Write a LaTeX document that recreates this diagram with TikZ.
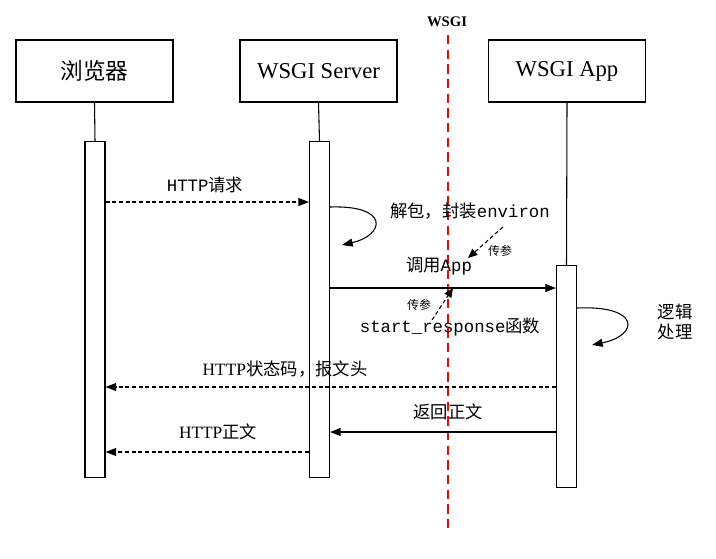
\documentclass[tikz,border=0pt]{standalone}
\usepackage{fontspec}
\setmainfont{Liberation Serif}
\setmonofont{Liberation Mono}
\newfontfamily\cjk{Noto Sans CJK SC}
\usetikzlibrary{arrows.meta}
\begin{document}
\begin{tikzpicture}[x=0.75pt,y=-0.75pt,
  box/.style={draw,thick,minimum width=117.75pt,minimum height=46.5pt,font=\fontsize{17}{19}\selectfont,inner sep=0},
  act/.style={draw,thick,fill=white,minimum width=15pt,inner sep=0},
  msg/.style={thick,-{Triangle[length=8pt,width=6pt]}},
  dot/.style={msg,densely dashed},
  lbl/.style={font=\fontsize{13}{15}\selectfont,inner sep=1pt},
  sm/.style={font=\cjk\fontsize{9}{10}\selectfont,inner sep=0}]
\useasboundingbox (0,0) rectangle (716,558);
\node[box] (b) at (94.5,71) {\cjk 浏览器};
\node[box] (s) at (318.5,71) {WSGI Server};
\node[box] (a) at (567,71) {WSGI App};
\coordinate (bt) at (95,141); \coordinate (st) at (319.5,141); \coordinate (at) at (566.5,265);
\draw[thick] (b.south) -- (bt);
\draw[thick] (s.south) -- (st);
\draw[thick] (a.south) -- (at);
\node[act,minimum height=252pt,anchor=north] (ba) at (bt) {};
\node[act,minimum height=252pt,anchor=north] (sa) at (st) {};
\node[act,minimum height=166.5pt,anchor=north] (aa) at (at) {};
\node[font=\bfseries\fontsize{11}{12}\selectfont] (w) at (447,22) {WSGI};
\coordinate (r1) at (448,35); \coordinate (r2) at (448,530);
\draw[red,thick,dash pattern=on 7pt off 4pt] (r1) -- (r2);
% messages
\draw[dot] (ba.east |- 0,202) -- (sa.west |- 0,202);
\node[lbl] (l1) at (205,185) {\ttfamily HTTP\cjk 请求};
\draw[thick,-{Triangle[length=8pt,width=6pt]}] (sa.east |- 0,207) .. controls (390,205) and (385,235) .. (342,245);
\node[lbl] (l2) at (470,211) {\cjk 解包，封装\ttfamily environ};
\coordinate (p1) at (503,227); \coordinate (p2) at (468,258);
\draw[thick,densely dashed,-{Triangle[length=7pt,width=6pt]}] (p1) -- (p2);
\node[sm] (s1) at (500,251) {传参};
\draw[msg] (sa.east |- 0,288) -- (aa.west |- 0,288);
\node[lbl] (l3) at (439,266) {\cjk 调用\ttfamily App};
\coordinate (q1) at (432,320); \coordinate (q2) at (453,288);
\draw[thick,densely dashed,-{Triangle[length=7pt,width=6pt]}] (q1) -- (q2);
\node[sm] (s2) at (419,305) {传参};
\node[lbl] (l4) at (450,327) {\ttfamily start\_response\cjk 函数};
\draw[thick,-{Triangle[length=8pt,width=6pt]}] (aa.east |- 0,308) .. controls (640,305) and (640,335) .. (592,345);
\node[lbl,align=center] (l5) at (675,322) {\cjk 逻辑\\\cjk 处理};
\draw[dot] (aa.west |- 0,387) -- (ba.east |- 0,387);
\node[lbl] (l6) at (285,369) {HTTP\cjk 状态码，报文头};
\draw[msg] (aa.west |- 0,432) -- (sa.east |- 0,432);
\node[lbl] (l7) at (448,412) {\cjk 返回正文};
\draw[dot] (sa.west |- 0,452) -- (ba.east |- 0,452);
\node[lbl] (l8) at (218,432) {HTTP\cjk 正文};
\end{tikzpicture}
\end{document}
